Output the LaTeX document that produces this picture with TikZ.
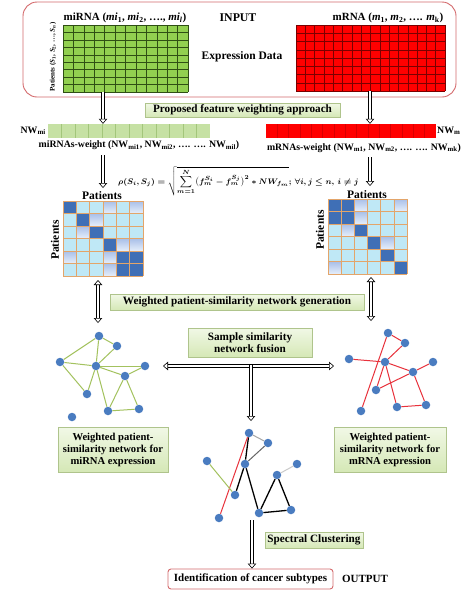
\documentclass[tikz,border=0pt]{standalone}
\usepackage{fontspec}
\setmainfont{Liberation Serif}
\usepackage{amsmath}
\usetikzlibrary{arrows.meta}
\definecolor{inred}{HTML}{D46A6C}
\definecolor{migreen}{HTML}{92D050}
\definecolor{migline}{HTML}{2F4F14}
\definecolor{mred}{HTML}{FF0000}
\definecolor{mrline}{HTML}{7A0000}
\definecolor{nwgreen}{HTML}{C6E1A4}
\definecolor{nwgline}{HTML}{A3C67B}
\definecolor{nwrline}{HTML}{D80000}
\definecolor{gtop}{HTML}{F1F8E6}
\definecolor{gbot}{HTML}{D5E8B6}
\definecolor{gborder}{HTML}{AFC48C}
\definecolor{cdark}{HTML}{3F6FB6}
\definecolor{clight}{HTML}{BFE8F6}
\definecolor{cmidtop}{HTML}{A9BFE8}
\definecolor{cmidbot}{HTML}{E6EFFB}
\definecolor{cline}{HTML}{E3A56A}
\definecolor{nodeblue}{HTML}{4A7CC0}
\definecolor{edgegreen}{HTML}{A3C25E}
\definecolor{edgered}{HTML}{E8323C}
\definecolor{edgegray}{HTML}{A6A6A6}
\newcommand{\myformula}{\mbox{\boldmath$\displaystyle \rho(S_i,S_j)=\sqrt{\sum_{m=1}^{N}\bigl(f_m^{S_i}-f_m^{S_j}\bigr)^2 * NW_{f_m}}\mathpunct{;}\,\forall i,j\le n,\, i\ne j$}}
\tikzset{
  dbl/.style={double=white, double distance=2.2pt, line width=0.6pt,
    -{Triangle[open, fill=white, length=5pt, width=8.5pt, line width=0.6pt]}},
  dblboth/.style={double=white, double distance=2.2pt, line width=0.6pt,
    {Triangle[open, fill=white, length=5pt, width=8.5pt, line width=0.6pt]}-{Triangle[open, fill=white, length=5pt, width=8.5pt, line width=0.6pt]}},
  gbox/.style={draw=gborder, line width=0.6pt, top color=gtop, bottom color=gbot,
    font=\bfseries\fontsize{11.2}{12.5}\selectfont, align=center, inner sep=0pt},
  rbox/.style={draw=inred, line width=0.9pt, rounded corners=3pt, fill=white,
    font=\bfseries\fontsize{11}{12}\selectfont, inner sep=0pt},
  lbl/.style={font=\bfseries\fontsize{11}{12}\selectfont, inner sep=0pt},
  small/.style={font=\bfseries\fontsize{9.8}{11}\selectfont, inner sep=0pt},
  cellD/.style={fill=cdark},
  cellL/.style={fill=clight},
  cellM/.style={top color=cmidtop, bottom color=cmidbot},
  pt/.style={circle, fill=nodeblue, minimum size=8.5pt, inner sep=0pt},
  ge/.style={edgegreen, line width=1pt},
  re/.style={edgered, line width=1pt},
  be/.style={black, line width=1.3pt},
  ye/.style={edgegray, line width=1pt}
}
\begin{document}
\begin{tikzpicture}[x=1pt,y=-1pt]
\useasboundingbox (0,0) rectangle (474,611);
\fill[white] (0,0) rectangle (474,611);

% ---------------- INPUT box ----------------
\node[draw=inred, line width=0.9pt, rounded corners=14pt, minimum width=433pt, minimum height=95pt, inner sep=0pt] (input) at (239.5,49.5) {};
\node[lbl, font=\bfseries\fontsize{11.8}{13}\selectfont] (inlbl) at (238,18) {INPUT};
\node[lbl, font=\bfseries\fontsize{11.5}{13}\selectfont] (exlbl) at (242,57) {Expression Data};

% miRNA grid
\node[minimum width=125pt, minimum height=67pt, inner sep=0pt] (migrid) at (125.5,58.5) {};
\fill[migreen] (63,25) rectangle (188,92);
\foreach \i in {0,...,12} \draw[migline, line width=0.5pt] ({63+\i*125/12},25) -- ({63+\i*125/12},92);
\foreach \i in {0,...,9} \draw[migline, line width=0.5pt] (63,{25+\i*67/9}) -- (188,{25+\i*67/9});
\node[lbl] (milbl) at (125,18) {miRNA (\textit{mi}\textsubscript{1}, \textit{mi}\textsubscript{2}, …., \textit{mi}\textsubscript{\textit{l}})};
\node[rotate=90, font=\bfseries\fontsize{7}{8}\selectfont, inner sep=0pt] (plbl) at (53,57) {Patients (\textit{S}\textsubscript{1}, \textit{S}\textsubscript{2}, …, \textit{S}\textsubscript{\textit{n}})};

% mRNA grid
\node[minimum width=149pt, minimum height=66pt, inner sep=0pt] (mgrid) at (370.5,58) {};
\fill[mred] (296,25) rectangle (445,91);
\foreach \i in {0,...,16} \draw[mrline, line width=0.5pt] ({296+\i*149/16},25) -- ({296+\i*149/16},91);
\foreach \i in {0,...,8} \draw[mrline, line width=0.5pt] (296,{25+\i*66/8}) -- (445,{25+\i*66/8});
\node[lbl] (mlbl) at (388,18) {mRNA (\textit{m}\textsubscript{1}, \textit{m}\textsubscript{2}, …. \textit{m}\textsubscript{k})};

% ---------------- feature weighting ----------------
\node[gbox, minimum width=195pt, minimum height=14pt] (prop) at (242.5,110) {Proposed feature weighting approach};

% NW bars
\node[minimum width=162pt, minimum height=14pt, inner sep=0pt] (mibar) at (129,131) {};
\fill[nwgreen] (48,124) rectangle (210,138);
\foreach \i in {1,...,11} \draw[nwgline, line width=0.6pt] ({48+\i*162/12},124) -- ({48+\i*162/12},138);
\node[minimum width=170pt, minimum height=14pt, inner sep=0pt] (mbar) at (351,131) {};
\fill[mred] (266,124) rectangle (436,138);
\foreach \i in {1,...,14} \draw[nwrline, line width=0.6pt] ({266+\i*170/15},124) -- ({266+\i*170/15},138);

\node[small, anchor=east] (nwmi) at (46,131) {NW\textsubscript{\scriptsize mi}};
\node[small, anchor=west] (nwm) at (437,131) {NW\textsubscript{\scriptsize m}};
\node[small] (miw) at (139,145.5) {miRNAs-weight (NW\textsubscript{mi1}, NW\textsubscript{mi2}, …. …. NW\textsubscript{mil})};
\node[small] (mw) at (364,148) {mRNAs-weight (NW\textsubscript{m1}, NW\textsubscript{m2}, …. …. NW\textsubscript{mk})};

\draw[dbl] ([xshift=-22.5pt]migrid.south) -- ([xshift=-26pt]mibar.north);
\draw[dbl] ([xshift=-0.5pt]mgrid.south) -- ([xshift=19pt]mbar.north);

% formula
\node[inner sep=0pt, font=\fontsize{8.1}{10}\selectfont, anchor=west] (formula) at (118,181) {\myformula};

% ---------------- similarity matrices ----------------
\node[minimum width=80pt, minimum height=75pt, inner sep=0pt] (lmat) at (103,238.5) {};
\foreach \row [count=\r] in {{D,L,L,M,L,M},{L,D,M,L,L,L},{L,M,D,L,L,L},{L,L,L,D,M,M},{M,L,L,M,D,D},{L,L,L,M,D,D}} {
  \foreach \t [count=\c] in \row {
    \path[cell\t] ({63+(\c-1)*80/6},{201+(\r-1)*12.5}) rectangle ({63+\c*80/6},{201+\r*12.5});
  }
}
\foreach \i in {0,...,6} {
  \draw[cline, line width=0.4pt] ({63+\i*80/6},201) -- ({63+\i*80/6},276);
  \draw[cline, line width=0.4pt] (63,{201+\i*12.5}) -- (143,{201+\i*12.5});
}
\node[lbl, font=\bfseries\fontsize{11.5}{12}\selectfont] (lpt) at (102,196) {Patients};
\node[lbl, font=\bfseries\fontsize{11.5}{12}\selectfont, rotate=90] (lpl) at (55,240) {Patients};

\node[minimum width=79pt, minimum height=75pt, inner sep=0pt] (rmat) at (367.5,236.5) {};
\foreach \row [count=\r] in {{D,D,M,L,L,M},{D,D,M,L,L,L},{L,M,D,L,L,L},{L,L,L,D,M,L},{L,L,L,L,D,L},{M,L,L,L,L,D}} {
  \foreach \t [count=\c] in \row {
    \path[cell\t] ({328+(\c-1)*79/6},{199+(\r-1)*12.5}) rectangle ({328+\c*79/6},{199+\r*12.5});
  }
}
\foreach \i in {0,...,6} {
  \draw[cline, line width=0.4pt] ({328+\i*79/6},199) -- ({328+\i*79/6},274);
  \draw[cline, line width=0.4pt] (328,{199+\i*12.5}) -- (407,{199+\i*12.5});
}
\node[lbl, font=\bfseries\fontsize{11.5}{12}\selectfont] (rpt) at (367,194.5) {Patients};
\node[lbl, font=\bfseries\fontsize{11.5}{12}\selectfont, rotate=90] (rpl) at (320,230) {Patients};

\coordinate (wa1) at (103,155);
\coordinate (wa2) at (103,188);
\coordinate (wb1) at (370,157);
\coordinate (wb2) at (370,186);
\draw[dbl] (wa1) -- (wa2);
\draw[dbl] (wb1) -- (wb2);

% ---------------- network generation ----------------
\node[gbox, minimum width=254pt, minimum height=16pt] (wgen) at (237,302) {Weighted patient-similarity network generation};
\coordinate (la1) at (98,280);
\coordinate (la2) at (98,323);
\coordinate (ra1) at (371,277);
\coordinate (ra2) at (371,321);
\draw[dblboth] (la1) -- (la2);
\draw[dblboth] (ra1) -- (ra2);

\node[gbox, minimum width=124pt, minimum height=29pt] (fusion) at (250,342.5) {Sample similarity\\network fusion};

% fusion arrows
\coordinate (fj) at (251,366);
\coordinate (fl) at (163,366);
\coordinate (fr) at (334,366);
\coordinate (fd) at (251,421);
\draw[dbl] (fj) -- (fl);
\draw[dbl] (fj) -- (fr);
\draw[dbl] ([yshift=1.1pt]fj) -- (fd);

% ---------------- left network (miRNA) ----------------
\node[pt] (A) at (99,336) {};
\node[pt] (B) at (117,346) {};
\node[pt] (C) at (60,362) {};
\node[pt] (D) at (96,366) {};
\node[pt] (E) at (145,366) {};
\node[pt] (F) at (125,376) {};
\node[pt] (G) at (87,394) {};
\node[pt] (H) at (108,411) {};
\node[pt] (I) at (139,409) {};
\node[pt] (J) at (72,417) {};
\foreach \u/\v in {A/B,A/C,A/D,B/D,C/D,C/G,G/D,D/E,D/F,F/E,D/H,H/F,F/I,H/I}
  \draw[ge] (\u) -- (\v);

% ---------------- right network (mRNA) ----------------
\node[pt] (a) at (388,333) {};
\node[pt] (b) at (405,343) {};
\node[pt] (c) at (349,359) {};
\node[pt] (d) at (385,362) {};
\node[pt] (e) at (433,362) {};
\node[pt] (f) at (413,372) {};
\node[pt] (g) at (376,390) {};
\node[pt] (h) at (397,407) {};
\node[pt] (i) at (426,405) {};
\node[pt] (j) at (361,411) {};
\foreach \u/\v in {a/b,a/j,b/d,d/g,c/d,d/f,f/e,g/f,d/h,h/i,i/f}
  \draw[re] (\u) -- (\v);

% ---------------- network boxes ----------------
\node[gbox, font=\bfseries\fontsize{10.6}{12}\selectfont, minimum width=110pt, minimum height=45pt] (lbox) at (113,449.5) {Weighted patient-\\similarity network for\\miRNA expression};
\node[gbox, font=\bfseries\fontsize{10.6}{12}\selectfont, minimum width=112pt, minimum height=45pt] (rbox) at (390,449.5) {Weighted patient-\\similarity network for\\mRNA expression};

% ---------------- fused network ----------------
\node[pt] (p1) at (249,433) {};
\node[pt] (p2) at (268,443) {};
\node[pt] (p3) at (207,461) {};
\node[pt] (p4) at (245,464) {};
\node[pt] (p5) at (297,464) {};
\node[pt] (p6) at (277,475) {};
\node[pt] (p7) at (235,495) {};
\node[pt] (p8) at (259,513) {};
\node[pt] (p9) at (291,510) {};
\node[pt] (p10) at (219,518) {};
\draw[ye] (p1) -- (p2);
\draw[ye, color=gray!80!black] (p2) -- (p4);
\draw[be] (p1) -- (p4);
\draw[re] (p1) -- (p10);
\draw[ge] (p3) -- (p7);
\draw[be] (p4) -- (p7);
\draw[be] (p4) -- (p8);
\draw[be] (p8) -- (p6);
\draw[be] (p6) -- (p9);
\draw[be] (p8) -- (p9);
\draw[ye, color=edgegray!60] (p6) -- (p5);

% ---------------- spectral clustering & output ----------------
\node[gbox, minimum width=98pt, minimum height=16pt] (spec) at (314,540) {Spectral Clustering};
\node[rbox, minimum width=165pt, minimum height=20pt] (out) at (250.5,579) {Identification of cancer subtypes};
\node[lbl] (outlbl) at (365,579) {OUTPUT};
\coordinate (sa1) at (252,520);
\draw[dbl] (sa1) -- (out.north -| sa1);
\end{tikzpicture}
\end{document}
